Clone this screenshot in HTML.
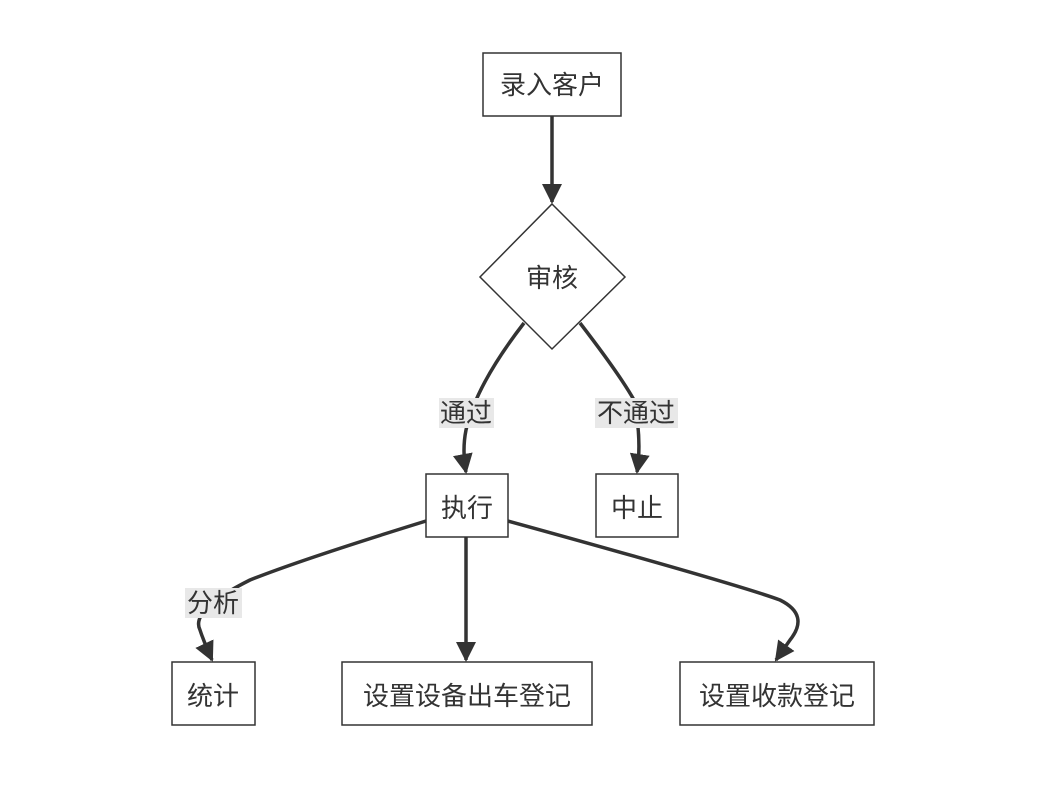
<!DOCTYPE html>
<html><head><meta charset="utf-8"><style>
body{margin:0;background:#fff}
svg text{font-family:"Liberation Sans","Noto Sans CJK SC",sans-serif;font-size:26px;fill:#333}
</style></head><body>
<svg width="1046" height="781" viewBox="0 0 1046 781" xmlns="http://www.w3.org/2000/svg">
<defs><marker id="a" markerWidth="10" markerHeight="10" refX="9" refY="5" orient="auto" markerUnits="userSpaceOnUse"><path d="M0,0 L10,5 L0,10Z" fill="#333"/></marker>
<marker id="b" viewBox="0 0 20 20" markerWidth="20" markerHeight="20" refX="18" refY="10" orient="auto" markerUnits="userSpaceOnUse"><path d="M0,0 L20,10 L0,20Z" fill="#333"/></marker></defs>
<g fill="none" stroke="#333" stroke-width="3.5">
<path d="M552,116 L552,202" marker-end="url(#b)"/>
<path d="M524,323 Q476,385 466,430 Q462,450 466,472" marker-end="url(#b)"/>
<path d="M580,323 Q620,375 634,400 Q642,440 637,472" marker-end="url(#b)"/>
<path d="M426,521 Q300,560 250,580 Q190,610 200,630 Q205,645 212,660" marker-end="url(#b)"/>
<path d="M466,537 L466,660" marker-end="url(#b)"/>
<path d="M508,521 Q740,585 780,600 Q810,615 790,640 L776,660" marker-end="url(#b)"/>
</g>
<g fill="#fff" stroke="#333" stroke-width="1.5">
<rect x="483" y="53" width="138" height="63"/>
<path d="M552,204 L625,277 L552,349 L480,277Z"/>
<rect x="426" y="474" width="82" height="63"/>
<rect x="596" y="474" width="82" height="63"/>
<rect x="172" y="662" width="83" height="63"/>
<rect x="342" y="662" width="250" height="63"/>
<rect x="680" y="662" width="194" height="63"/>
</g>
<g fill="#e8e8e8"><rect x="439" y="398" width="55" height="30"/><rect x="595" y="398" width="83" height="30"/><rect x="185" y="588" width="57" height="30"/></g>
<g text-anchor="middle">
<text x="552" y="94">录入客户</text>
<text x="552" y="287">审核</text>
<text x="467" y="517">执行</text>
<text x="637" y="517">中止</text>
<text x="213" y="705">统计</text>
<text x="467" y="705">设置设备出车登记</text>
<text x="777" y="705">设置收款登记</text>
<text x="466" y="422">通过</text>
<text x="636" y="422">不通过</text>
<text x="213" y="612">分析</text>
</g>
</svg>
</body></html>
